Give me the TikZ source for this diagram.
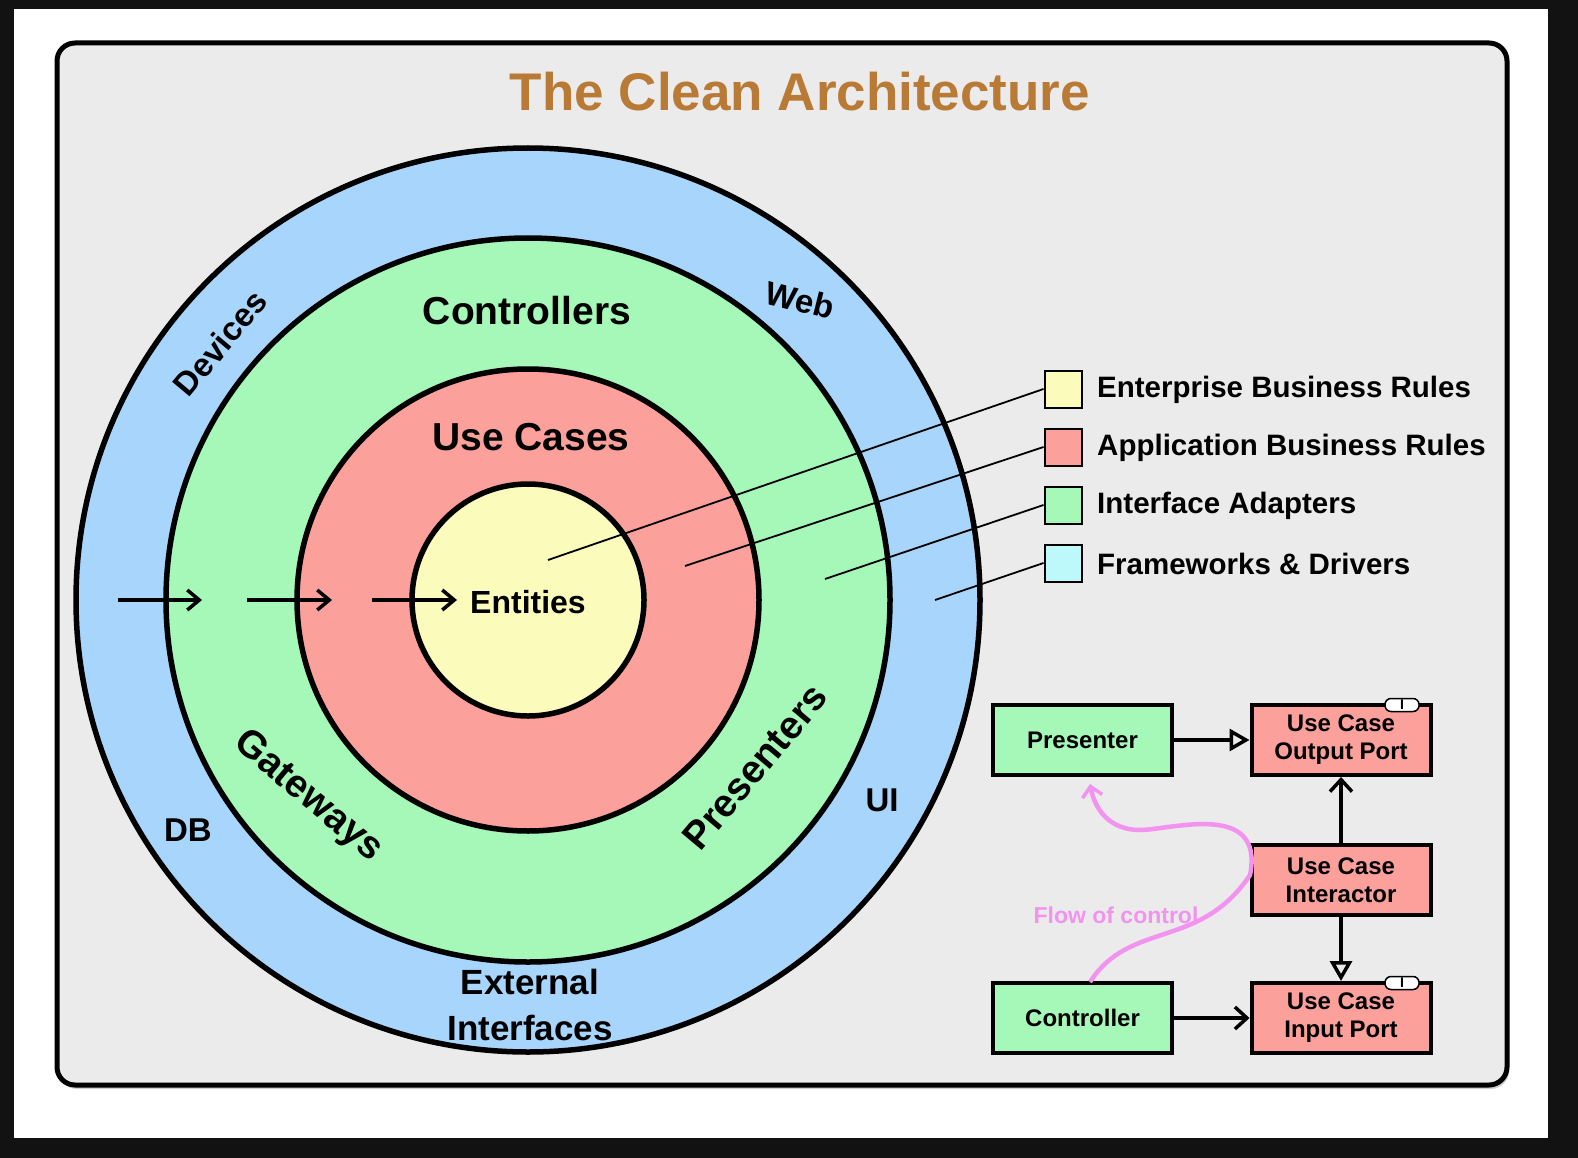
\documentclass[tikz,border=0pt]{standalone}
\usepackage{fontspec}
\setmainfont{Liberation Sans}
\usetikzlibrary{arrows.meta,shadows}
\definecolor{bgray}{HTML}{EBEBEB}
\definecolor{cblue}{HTML}{A8D5FB}
\definecolor{cgreen}{HTML}{A5F8B8}
\definecolor{cred}{HTML}{FBA09B}
\definecolor{cyel}{HTML}{FBFBBB}
\definecolor{ccyan}{HTML}{BDF9FB}
\definecolor{ctitle}{HTML}{B87A35}
\definecolor{cmag}{HTML}{F293F0}
\tikzset{
  ring/.style={draw=black,line width=5.5pt},
  lbl/.style={font=\fontsize{39}{40}\selectfont\bfseries,inner sep=0pt},
  legsq/.style={draw=black,line width=2pt,minimum width=37pt,minimum height=37pt,inner sep=0pt},
  legtxt/.style={font=\fontsize{29.5}{30}\selectfont\bfseries,anchor=west,inner sep=0pt},
  ubox/.style={draw=black,line width=4pt,minimum width=179pt,minimum height=70pt,align=center,font=\fontsize{24}{28}\selectfont\bfseries,inner sep=0pt},
  conn/.style={line width=3.5pt},
  imark/.style={draw=black,line width=1.5pt,fill=white,minimum width=34pt,minimum height=13pt,inner sep=0pt,rounded corners=6pt,font=\fontsize{14}{14}\selectfont\bfseries},
}
\begin{document}
\begin{tikzpicture}[x=1pt,y=-1pt]
\useasboundingbox (0,0) rectangle (1578,1158);
\fill[black!93] (0,0) rectangle (1578,1158);
\fill[white] (14,9) rectangle (1548,1138);
\draw[fill=bgray,line width=5pt,rounded corners=18pt,drop shadow={shadow xshift=2pt,shadow yshift=-4pt,opacity=0.35}] (57,43) rectangle (1507,1085);
\node[font=\fontsize{53}{56}\selectfont\bfseries,text=ctitle] (title) at (800,92) {The Clean Architecture};
% rings
\draw[ring,fill=cblue] (528,600) circle (452);
\draw[ring,fill=cgreen] (528,600) circle (362);
\draw[ring,fill=cred] (528,600) circle (231);
\draw[ring,fill=cyel] (528,600) circle (116);
% ring labels
\node[lbl] (ctl) at (527,311) {Controllers};
\node[lbl] (uc) at (531,437) {Use Cases};
\node[font=\fontsize{32}{34}\selectfont\bfseries,anchor=west,inner sep=0pt] (ent) at (470,602) {Entities};
\node[lbl,font=\fontsize{33}{34}\selectfont\bfseries,rotate=50] (dev) at (220,343) {Devices};
\node[lbl,font=\fontsize{33}{34}\selectfont\bfseries,rotate=-14] (web) at (800,300) {Web};
\node[lbl,font=\fontsize{33}{34}\selectfont\bfseries] (db) at (188,830) {DB};
\node[lbl,font=\fontsize{33}{34}\selectfont\bfseries] (ui) at (882,800) {UI};
\node[lbl,rotate=-40] (gw) at (308,797) {Gateways};
\node[lbl,rotate=50] (pres) at (755,767) {Presenters};
\node[lbl,font=\fontsize{35}{46}\selectfont\bfseries,align=center] (ext) at (530,1005) {External\\Interfaces};
% arrows
\coordinate (a1) at (118,600); \coordinate (b1) at (202,600);
\coordinate (a2) at (247,600); \coordinate (b2) at (332,600);
\coordinate (a3) at (372,600); \coordinate (b3) at (457,600);
\foreach \i in {1,2,3} \draw[conn,-{Straight Barb[length=12pt,width=20pt,line width=3.5pt]}] (a\i) -- (b\i);
% legend
\node[legsq,fill=cyel] (s1) at (1063,389) {};
\node[legsq,fill=cred] (s2) at (1063,447) {};
\node[legsq,fill=cgreen] (s3) at (1063,505) {};
\node[legsq,fill=ccyan] (s4) at (1063,563) {};
\node[legtxt] (t1) at (1097,390) {Enterprise Business Rules};
\node[legtxt] (t2) at (1097,448) {Application Business Rules};
\node[legtxt] (t3) at (1097,506) {Interface Adapters};
\node[legtxt] (t4) at (1097,564) {Frameworks \& Drivers};
\coordinate (p1) at (548,560);
\coordinate (p2) at (685,566);
\coordinate (p3) at (825,579);
\coordinate (p4) at (935,600);
\foreach \i in {1,2,3,4} \draw[line width=1.8pt] (s\i.west) -- (p\i);
% boxes
\node[ubox,fill=cgreen] (presenter) at (1082.5,740) {Presenter};
\node[ubox,fill=cred] (outp) at (1341,740) {Use Case\\Output Port};
\node[ubox,fill=cred] (inter) at (1341,880) {Use Case\\Interactor};
\node[ubox,fill=cgreen] (controller) at (1082.5,1018) {Controller};
\node[ubox,fill=cred] (inp) at (1341,1018) {Use Case\\Input Port};
\node[imark] (im1) at (1402,705) {I};
\node[imark] (im2) at (1402,983) {I};
\draw[conn,-{Triangle[open,length=20pt,width=22pt,line width=3.5pt]}] (presenter) -- (outp);
\draw[conn,-{Straight Barb[length=12pt,width=22pt,line width=3.5pt]}] (inter) -- (outp);
\draw[conn,-{Triangle[open,length=20pt,width=22pt,line width=3.5pt]}] (inter) -- (inp);
\draw[conn,-{Straight Barb[length=12pt,width=22pt,line width=3.5pt]}] (controller) -- (inp);
% flow of control
\coordinate (f0) at (1090,982);
\coordinate (f1) at (1250,875);
\coordinate (f2) at (1090,784);
\draw[cmag,line width=4.5pt,-{Straight Barb[length=10pt,width=20pt,line width=3.5pt]}]
  (f0) .. controls (1130,920) and (1200,950) .. (f1)
  .. controls (1265,800) and (1170,830) .. (1140,830)
  .. controls (1110,830) and (1095,810) .. (f2);
\node[font=\fontsize{23}{24}\selectfont\bfseries,text=cmag,inner sep=0pt] (foc) at (1116,915) {Flow of control};
\end{tikzpicture}
\end{document}
